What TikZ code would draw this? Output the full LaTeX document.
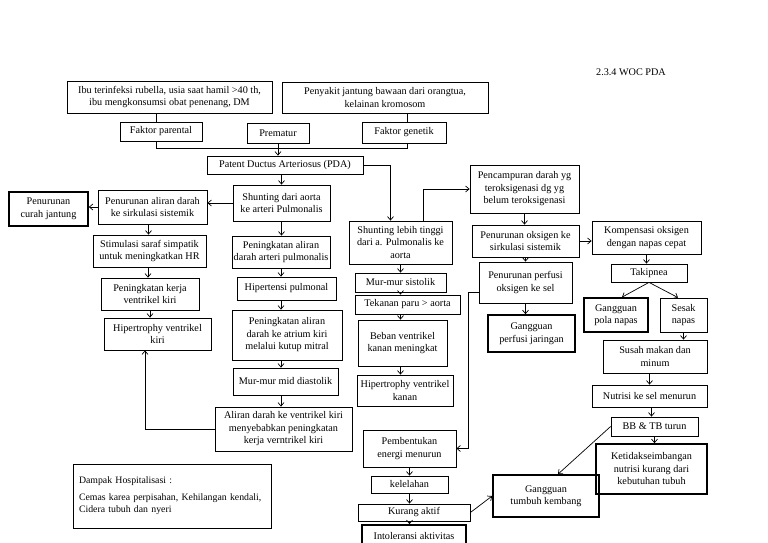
\documentclass[tikz,border=0pt]{standalone}
\usepackage{fontspec}
\setmainfont{Liberation Serif}
\usetikzlibrary{arrows.meta}
\begin{document}
\begin{tikzpicture}[x=1pt,y=-1pt,
  box/.style={draw, line width=0.8pt, align=center, inner sep=1pt, font=\fontsize{10.2}{12.5}\selectfont},
  tbox/.style={box, line width=1.7pt},
  arr/.style={-{Straight Barb[length=3.5pt,width=6pt]}, line width=0.7pt},
  ln/.style={line width=0.7pt}]
\useasboundingbox (0,0) rectangle (768,543);
\node[font=\fontsize{10.2}{12.5}\selectfont] (title) at (631,72) {2.3.4 WOC PDA};
% top
\node[box, minimum width=205pt, minimum height=32pt] (A) at (169.5,97) {Ibu terinfeksi rubella, usia saat hamil >40 th,\\ ibu mengkonsumsi obat penenang, DM};
\node[box, minimum width=206pt, minimum height=31pt] (B) at (385,97.5) {Penyakit jantung bawaan dari orangtua,\\ kelainan kromosom};
\node[box, minimum width=82pt, minimum height=19pt] (parental) at (161,131.5) {Faktor parental};
\node[box, minimum width=62pt, minimum height=20pt] (prematur) at (278,133) {Prematur};
\node[box, minimum width=84pt, minimum height=21pt] (genetik) at (404,132.5) {Faktor genetik};
\node[box, minimum width=156pt, minimum height=18pt] (PDA) at (285,165) {Patent Ductus Arteriosus (PDA)};
% left
\node[box, minimum width=97pt, minimum height=36pt] (shuntA) at (281.5,203) {Shunting dari aorta\\ ke arteri Pulmonalis};
\node[box, minimum width=109pt, minimum height=34pt] (penAliran) at (152.5,207) {Penurunan aliran darah\\ ke sirkulasi sistemik};
\node[tbox, minimum width=79pt, minimum height=34pt] (curah) at (48.5,209) {Penurunan\\ curah jantung};
\node[box, minimum width=113pt, minimum height=32pt] (stim) at (149.5,251) {Stimulasi saraf simpatik\\ untuk meningkatkan HR};
\node[box, minimum width=98pt, minimum height=32pt] (kerja) at (150,294) {Peningkatan kerja\\ ventrikel kiri};
\node[box, minimum width=107pt, minimum height=32pt] (hipKiri) at (157.5,334) {Hipertrophy ventrikel\\ kiri};
% middle
\node[box, minimum width=98pt, minimum height=32pt] (penPul) at (281,252) {Peningkatan aliran\\ darah arteri pulmonalis};
\node[box, minimum width=99pt, minimum height=23pt] (hipPul) at (286.5,288.5) {Hipertensi pulmonal};
\node[box, minimum width=110pt, minimum height=50pt] (atrium) at (287,335) {Peningkatan aliran\\ darah ke atrium kiri\\ melalui kutup mitral};
\node[box, minimum width=105pt, minimum height=27pt] (diast) at (285.5,381.5) {Mur-mur mid diastolik};
\node[box, minimum width=137pt, minimum height=44pt] (aliranVK) at (283.5,429) {Aliran darah ke ventrikel kiri\\ menyebabkan peningkatan\\ kerja verntrikel kiri};
% right-middle
\node[box, minimum width=103pt, minimum height=43pt] (shuntB) at (400.5,242.5) {Shunting lebih tinggi\\ dari a. Pulmonalis ke\\ aorta};
\node[box, minimum width=91pt, minimum height=19pt] (sistolik) at (400.5,282.5) {Mur-mur sistolik};
\node[box, minimum width=105pt, minimum height=19pt] (tekanan) at (407.5,304.5) {Tekanan paru > aorta};
\node[box, minimum width=89pt, minimum height=46pt] (beban) at (402.5,343) {Beban ventrikel\\ kanan meningkat};
\node[box, minimum width=96pt, minimum height=31pt] (hipKanan) at (405,390.5) {Hipertrophy ventrikel\\ kanan};
% right
\node[box, minimum width=109pt, minimum height=48pt] (campur) at (524.5,189) {Pencampuran darah yg\\ teroksigenasi dg yg\\ belum teroksigenasi};
\node[box, minimum width=107pt, minimum height=32pt] (penOks) at (525.5,241) {Penurunan oksigen ke\\ sirkulasi sistemik};
\node[box, minimum width=93pt, minimum height=41pt] (perfusi) at (525.5,282.5) {Penurunan perfusi\\ oksigen ke sel};
\node[tbox, minimum width=87pt, minimum height=37pt] (gangPerf) at (531.5,333.5) {Gangguan\\ perfusi jaringan};
\node[box, minimum width=109pt, minimum height=33pt] (komp) at (646.5,237.5) {Kompensasi oksigen\\ dengan napas cepat};
\node[box, minimum width=76pt, minimum height=18pt] (takip) at (649,273) {Takipnea};
\node[tbox, minimum width=64pt, minimum height=34pt] (gpola) at (616,315) {Gangguan\\ pola napas};
\node[box, minimum width=47pt, minimum height=34pt] (sesak) at (683.5,315) {Sesak\\ napas};
\node[box, minimum width=104pt, minimum height=33pt] (susah) at (655,356.5) {Susah makan dan\\ minum};
\node[box, minimum width=115pt, minimum height=22pt] (nutrisi) at (649.5,396) {Nutrisi ke sel menurun};
\node[box, minimum width=87pt, minimum height=19pt] (bbtb) at (654.5,426.5) {BB \& TB turun};
\node[tbox, minimum width=111pt, minimum height=50pt] (ketidak) at (651.5,469) {Ketidakseimbangan\\ nutrisi kurang dari\\ kebutuhan tubuh};
\node[tbox, minimum width=106pt, minimum height=42pt] (tumbuh) at (546,496) {Gangguan\\ tumbuh kembang};
% bottom
\node[box, minimum width=93pt, minimum height=37pt] (pemb) at (409.5,448.5) {Pembentukan\\ energi menurun};
\node[box, minimum width=77pt, minimum height=17pt] (lelah) at (409.5,484.5) {kelelahan};
\node[box, minimum width=112pt, minimum height=17pt] (kurang) at (414,512.5) {Kurang aktif};
\node[tbox, minimum width=104pt, minimum height=22pt] (intol) at (414,536) {Intoleransi aktivitas};
\node[box, minimum width=198pt, minimum height=64pt, inner xsep=6pt, text width=186pt, align=left, font=\fontsize{9.8}{12}\selectfont] (dampak) at (172,496) {Dampak Hospitalisasi :\\[5pt] Cemas karea perpisahan, Kehilangan kendali,\\ Cidera tubuh dan nyeri};
% connectors top
\draw[ln] ([xshift=-5pt]parental.north) -- ([xshift=-5pt]parental.north |- A.south);
\draw[ln] ([xshift=3pt]genetik.north) -- ([xshift=3pt]genetik.north |- B.south);
\draw[ln] ([xshift=-5pt]parental.south) -- ++(0,7) -| ([xshift=3pt]genetik.south);
\draw[arr] (prematur.south) -- (prematur.south |- PDA.north);
\draw[arr] (shuntA.north |- PDA.south) -- (shuntA.north);
\draw[arr] (PDA.east) -| ([xshift=-10pt]shuntB.north);
% left column
\draw[arr] (shuntA.west) -- (shuntA.west -| penAliran.east);
\draw[arr] (penAliran.west) -- (penAliran.west -| curah.east);
\draw[arr] ([xshift=-4pt]penAliran.south) -- ([xshift=-4pt]penAliran.south |- stim.north);
\draw[arr] ([xshift=-1.5pt]stim.south) -- ([xshift=-1.5pt]stim.south |- kerja.north);
\draw[arr] (kerja.south) -- (kerja.south |- hipKiri.north);
\draw[arr] (aliranVK.west) -| ([xshift=-12.5pt]hipKiri.south);
% middle column
\draw[arr] (shuntA.south) -- (shuntA.south |- penPul.north);
\draw[arr] (penPul.south) -- (penPul.south |- hipPul.north);
\draw[arr] (penPul.south |- hipPul.south) -- (penPul.south |- atrium.north);
\draw[arr] (penPul.south |- atrium.south) -- (penPul.south |- diast.north);
\draw[arr] (penPul.south |- diast.south) -- (penPul.south |- aliranVK.north);
% right-middle column
\draw[arr] (shuntB.south) -- (shuntB.south |- sistolik.north);
\draw[arr] (sistolik.south) -- (sistolik.south |- tekanan.north);
\draw[arr] (sistolik.south |- tekanan.south) -- (sistolik.south |- beban.north);
\draw[arr] (sistolik.south |- beban.south) -- (sistolik.south |- hipKanan.north);
\draw[arr] ([xshift=22.5pt]shuntB.north) |- (campur.west);
% right column
\draw[arr] (campur.south) -- (campur.south |- penOks.north);
\draw[arr] (penOks.south) -- (penOks.south |- perfusi.north);
\draw[arr] (perfusi.south) -- (perfusi.south |- gangPerf.north);
\draw[arr] (penOks.east) -- (penOks.east -| komp.west);
\draw[arr] (komp.south) -- (komp.south |- takip.north);
\draw[arr] (takip.south) -- ([xshift=6pt]gpola.north);
\draw[arr] (takip.south) -- ([xshift=-5.5pt]sesak.north);
\draw[arr] (sesak.south) -- (sesak.south |- susah.north);
\draw[arr] (nutrisi.north |- susah.south) -- (nutrisi.north);
\draw[arr] ([xshift=2pt]nutrisi.south) -- ([xshift=2pt]nutrisi.south |- bbtb.north);
\draw[arr] (bbtb.south) -- (bbtb.south |- ketidak.north);
\draw[arr] (bbtb.west) -- ([xshift=12pt]tumbuh.north);
% bottom column
\coordinate (pb) at (468,292);
\draw[arr] (pb -| perfusi.west) -- (pb) |- (pemb.east);
\draw[arr] (pemb.south) -- (pemb.south |- lelah.north);
\draw[arr] (lelah.south) -- (lelah.south |- kurang.north);
\draw[arr] (lelah.south |- kurang.south) -- (lelah.south |- intol.north);
\draw[arr] (kurang.east) -- (tumbuh.west);
\end{tikzpicture}
\end{document}
